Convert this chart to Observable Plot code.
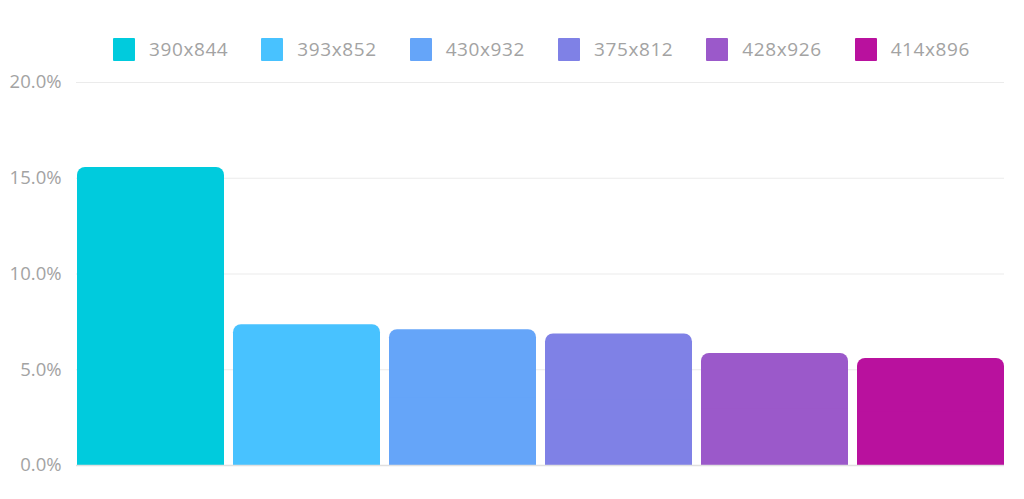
<!DOCTYPE html>
<html>
<head>
<meta charset="utf-8">
<script src="https://cdn.jsdelivr.net/npm/d3@7"></script>
<script src="https://cdn.jsdelivr.net/npm/@observablehq/plot@0.6"></script>
<style>
  html, body { margin: 0; padding: 0; background: #fff; }
  #wrap { width: 1024px; height: 499px; overflow: hidden; font-family: "Open Sans", sans-serif; }
  #legend { height: 60px; box-sizing: border-box; padding-top: 38px; padding-left: 113px;
            display: flex; align-items: flex-start; gap: 33px; }
  .item { display: flex; align-items: center; gap: 14px; height: 23px; }
  .sw { width: 22px; height: 23px; border-radius: 1px; }
  .lab { font-size: 19px; color: #a3a3a3; letter-spacing: 0.6px; line-height: 23px; }
  #chart svg { display: block; }
</style>
</head>
<body>
<div id="wrap">
  <div id="legend"></div>
  <div id="chart"></div>
</div>
<script>
const categories = ["390x844", "393x852", "430x932", "375x812", "428x926", "414x896"];
const values = [15.56, 7.35, 7.09, 6.87, 5.85, 5.59];
const colors = ["#00CBDD", "#48C2FF", "#65A5F9", "#7F81E6", "#9B59CA", "#B9119E"];
const yTicks = [0, 5, 10, 15, 20];

const data = categories.map((c, i) => ({name: c, value: values[i]}));

const legend = document.getElementById("legend");
categories.forEach((c, i) => {
  const it = document.createElement("div");
  it.className = "item";
  const sw = document.createElement("div");
  sw.className = "sw";
  sw.style.background = colors[i];
  const lab = document.createElement("span");
  lab.className = "lab";
  lab.textContent = c;
  it.appendChild(sw); it.appendChild(lab);
  legend.appendChild(it);
});

const chart = Plot.plot({
  width: 1024,
  height: 439,
  marginTop: 22,
  marginBottom: 34,
  marginLeft: 76,
  marginRight: 20,
  style: { fontFamily: "'Open Sans', sans-serif", fontSize: "18.5px", color: "#a3a3a3", background: "#fff" },
  x: { domain: categories, paddingInner: 0.06, paddingOuter: 0, axis: null },
  y: { domain: [0, 20], ticks: yTicks, tickFormat: d => d.toFixed(1) + "%", tickSize: 0, tickPadding: 15, label: null },
  color: { domain: categories, range: colors },
  marks: [
    Plot.gridY(yTicks, { stroke: "#ebebeb", strokeOpacity: 1, strokeWidth: 1 }),
    Plot.barY(data, { x: "name", y: "value", fill: "name", rx: 8 }),
    Plot.barY(data, { x: "name", y: d => d.value / 2, fill: "name" }),
    Plot.ruleY([0], { stroke: "#e0e0e0", strokeWidth: 1.5 })
  ]
});
document.getElementById("chart").appendChild(chart);
</script>
</body>
</html>
